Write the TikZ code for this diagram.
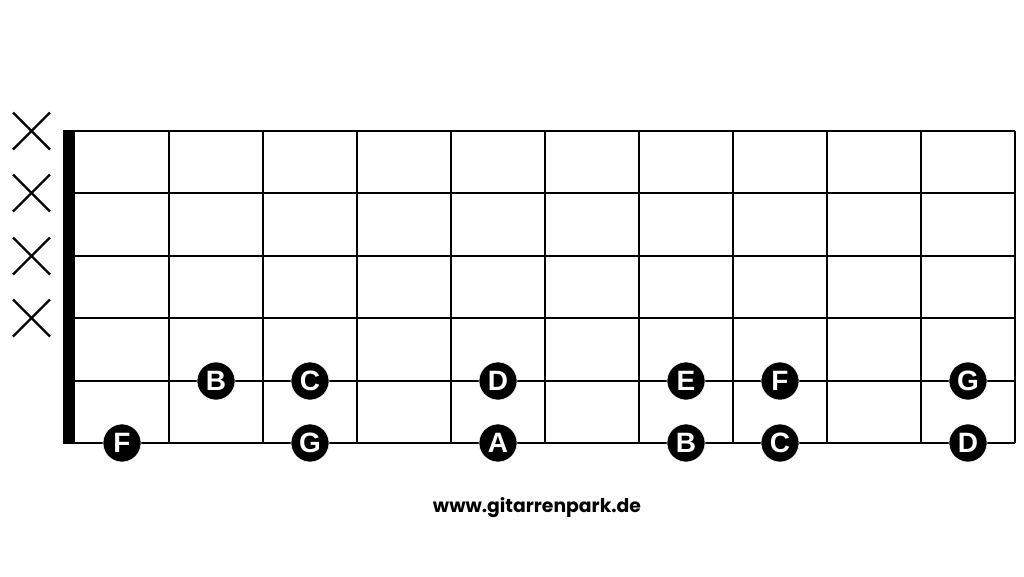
\documentclass[tikz,border=0pt]{standalone}
\usepackage{fontspec}
\setmainfont{Liberation Sans}
\newfontfamily\urlfont{Poppins}
\begin{document}
\begin{tikzpicture}[x=1pt,y=-1pt,
  str/.style={line width=2pt,black},
  fret/.style={line width=2pt,black},
  note/.style={circle,fill=black,draw=white,line width=0.6pt,minimum size=38pt,inner sep=0pt,text=white,font=\bfseries\fontsize{28}{28}\selectfont},
  xmark/.style={line width=2.2pt,black}]
\useasboundingbox (0,0) rectangle (1024,576);
\fill[white] (0,0) rectangle (1024,576);
% strings
\foreach \i/\y in {1/131,2/193,3/256,4/318,5/381,6/443}{
  \coordinate (sl\i) at (63,\y);
  \coordinate (sr\i) at (1015,\y);
  \draw[str] (sl\i) -- (sr\i);
}
% frets
\foreach \i/\x in {1/169,2/263,3/357,4/451,5/545,6/639,7/733,8/827,9/921,10/1015}{
  \coordinate (ft\i) at (\x,131);
  \coordinate (fb\i) at (\x,443);
  \draw[fret] (ft\i) -- (fb\i);
}
% nut
\fill[black] (63,130) rectangle (75,444);
% X marks
\foreach \i/\y in {1/131,2/193,3/256,4/318}{
  \coordinate (xa\i) at (13,\y-18.5);
  \coordinate (xb\i) at (50,\y+18.5);
  \coordinate (xc\i) at (13,\y+18.5);
  \coordinate (xd\i) at (50,\y-18.5);
  \draw[xmark] (xa\i) -- (xb\i);
  \draw[xmark] (xc\i) -- (xd\i);
}
% notes string 5
\node[note] (n5a) at (216,381) {B};
\node[note] (n5b) at (310,381) {C};
\node[note] (n5c) at (498,381) {D};
\node[note] (n5d) at (686,381) {E};
\node[note] (n5e) at (780,381) {F};
\node[note] (n5f) at (968,381) {G};
% notes string 6
\node[note] (n6a) at (122,443) {F};
\node[note] (n6b) at (310,443) {G};
\node[note] (n6c) at (498,443) {A};
\node[note] (n6d) at (686,443) {B};
\node[note] (n6e) at (780,443) {C};
\node[note] (n6f) at (968,443) {D};
% url
\node[font=\urlfont\bfseries\fontsize{18.8}{18.8}\selectfont] (url) at (537,508) {www.gitarrenpark.de};
\end{tikzpicture}
\end{document}
